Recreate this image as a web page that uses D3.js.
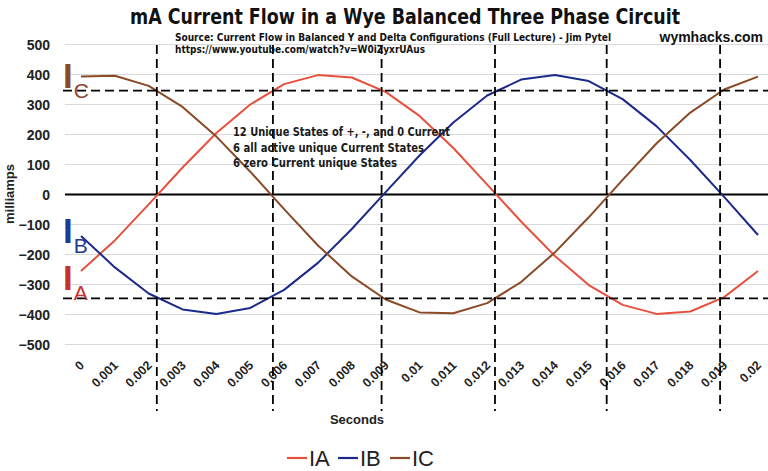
<!DOCTYPE html>
<html><head><meta charset="utf-8">
<script src="https://cdn.jsdelivr.net/npm/d3@7"></script>
<style>
html,body{margin:0;padding:0;background:#fff;}
svg{display:block;}
</style></head>
<body>
<script>
const seconds = [0,0.001,0.002,0.003,0.004,0.005,0.006,0.007,0.008,0.009,0.01,0.011,0.012,0.013,0.014,0.015,0.016,0.017,0.018,0.019,0.02];
const tickLabels = ["0","0.001","0.002","0.003","0.004","0.005","0.006","0.007","0.008","0.009","0.01","0.011","0.012","0.013","0.014","0.015","0.016","0.017","0.018","0.019","0.02"];
const IA = [-255,-153,-33,90,205,300,368,398,390,342,262,155,33,-90,-205,-302,-368,-398,-390,-342,-255];
const IB = [-138,-243,-330,-383,-398,-378,-318,-228,-115,8,130,240,330,383,398,378,318,228,115,-8,-135];
const IC = [393,396,362,292,193,76,-49,-170,-273,-350,-393,-396,-362,-292,-193,-76,49,170,273,350,393];
const yTicks = [500,400,300,200,100,0,-100,-200,-300,-400,-500];
const zeroCrossings = [0.00224,0.00567,0.00888,0.01223,0.01553,0.01888];
const peakLines = [346,-346];
const seriesNames = ["IA","IB","IC"];
const colors = {IA:"#E8503E", IB:"#1C2A8A", IC:"#8A4A26"};
const labelColors = {IA:"#C8302C", IB:"#1F3A96", IC:"#8A4A26"};
const notes = ["12 Unique States of +, -, and 0 Current","6 all active unique Current States","6 zero Current unique States"];
const noteWidths = [217,191,164];

const W=768,H=471;
const svg=d3.select("body").append("svg").attr("width",W).attr("height",H);
svg.append("rect").attr("width",W).attr("height",H).attr("fill","#fff");

const x=d3.scaleLinear().domain([0,0.02]).range([81,758]);
const y=d3.scaleLinear().domain([-500,500]).range([344.5,44.5]);
const narrow='"Liberation Sans Narrow","DejaVu Sans Condensed","Roboto Condensed",Arial,sans-serif';
const sans='"Liberation Sans",Arial,sans-serif';

// gridlines
svg.append("g").selectAll("line").data(yTicks.filter(d=>d!==0)).join("line")
  .attr("x1",65).attr("x2",768).attr("y1",d=>y(d)).attr("y2",d=>y(d))
  .attr("stroke","#d9d9d9").attr("stroke-width",1);

// y axis labels
const yAxis=d3.axisLeft(y).tickValues(yTicks).tickSize(0).tickPadding(0);
const ya=svg.append("g").attr("transform","translate(50,0)").call(yAxis);
ya.select(".domain").remove();
ya.selectAll("text").attr("font-family",sans).attr("font-weight","bold").attr("font-size",14).attr("fill","#222").attr("dy","0.35em");

// zero line
svg.append("line").attr("x1",65).attr("x2",768).attr("y1",y(0)).attr("y2",y(0)).attr("stroke","#000").attr("stroke-width",2.2);

// x labels
const xAxis=d3.axisBottom(x).tickValues(seconds).tickSize(0).tickFormat((d,i)=>tickLabels[i]);
const xa=svg.append("g").call(xAxis);
xa.select(".domain").remove();
xa.selectAll(".tick").attr("transform",d=>`translate(${x(d)+4},366)`);
xa.selectAll("text").attr("x",0).attr("y",0).attr("dy",0).attr("transform","rotate(-45)")
  .attr("text-anchor","end").attr("font-family",sans).attr("font-weight","bold").attr("font-size",12.5).attr("fill","#222");

// series lines
const line=d3.line().x((d,i)=>x(seconds[i])).y(d=>y(d));
const data={IA,IB,IC};
seriesNames.forEach(n=>{
  svg.append("path").datum(data[n]).attr("d",line).attr("fill","none")
    .attr("stroke",colors[n]).attr("stroke-width",2).attr("stroke-linejoin","round");
});

// dashed lines
svg.append("g").selectAll("line").data(peakLines).join("line")
  .attr("x1",63).attr("x2",768).attr("y1",d=>y(d)).attr("y2",d=>y(d))
  .attr("stroke","#000").attr("stroke-width",1.8).attr("stroke-dasharray","9,5");
svg.append("g").selectAll("line").data(zeroCrossings).join("line")
  .attr("x1",d=>x(d)).attr("x2",d=>x(d)).attr("y1",45).attr("y2",411)
  .attr("stroke","#000").attr("stroke-width",1.8).attr("stroke-dasharray","9,5");

// annotation notes
svg.append("g").selectAll("text").data(notes).join("text")
  .attr("x",233).attr("y",(d,i)=>136+i*15.5).text(d=>d)
  .attr("font-family",narrow).attr("font-weight","bold").attr("font-size",12.5).attr("fill","#1a1a1a")
  .attr("textLength",(d,i)=>noteWidths[i]).attr("lengthAdjust","spacingAndGlyphs");

// I labels
const ilabels=[{n:"IC",sub:"C",y:88},{n:"IB",sub:"B",y:243},{n:"IA",sub:"A",y:290}];
ilabels.forEach(l=>{
  const t=svg.append("text").attr("x",63).attr("y",l.y).attr("fill",labelColors[l.n]).attr("font-family",sans);
  t.append("tspan").text("I").attr("font-size",35).attr("font-weight","bold");
  t.append("tspan").text(l.sub).attr("font-size",21).attr("dx",1).attr("dy",10);
});

// titles
svg.append("text").attr("x",405).attr("y",24).attr("text-anchor","middle").text("mA Current Flow in a Wye Balanced Three Phase Circuit")
  .attr("font-family",narrow).attr("font-weight","bold").attr("font-size",21).attr("fill","#111")
  .attr("textLength",550).attr("lengthAdjust","spacingAndGlyphs");
svg.append("text").attr("x",175).attr("y",40.5).text("Source: Current Flow in Balanced Y and Delta Configurations (Full Lecture) - Jim Pytel")
  .attr("font-family",narrow).attr("font-weight","bold").attr("font-size",10).attr("fill","#111")
  .attr("textLength",436).attr("lengthAdjust","spacingAndGlyphs");
svg.append("text").attr("x",175).attr("y",52.5).text("https://www.youtube.com/watch?v=W0iZyxrUAus")
  .attr("font-family",narrow).attr("font-weight","bold").attr("font-size",10).attr("fill","#111")
  .attr("textLength",250).attr("lengthAdjust","spacingAndGlyphs");
svg.append("text").attr("x",763).attr("y",42).attr("text-anchor","end").text("wymhacks.com")
  .attr("font-family",sans).attr("font-weight","bold").attr("font-size",14).attr("fill","#111");

// axis titles
svg.append("text").attr("transform","translate(14,194) rotate(-90)").attr("text-anchor","middle").text("milliamps")
  .attr("font-family",sans).attr("font-weight","bold").attr("font-size",13).attr("fill","#222");
svg.append("text").attr("x",357).attr("y",424).attr("text-anchor","middle").text("Seconds")
  .attr("font-family",sans).attr("font-weight","bold").attr("font-size",13).attr("fill","#222");

// legend
const lg=svg.append("g");
const lx=[287,338,390];
seriesNames.forEach((n,i)=>{
  lg.append("line").attr("x1",lx[i]).attr("x2",lx[i]+20).attr("y1",458).attr("y2",458).attr("stroke",colors[n]).attr("stroke-width",2.2);
  lg.append("text").attr("x",lx[i]+22).attr("y",466).text(n).attr("font-family",sans).attr("font-size",22).attr("fill","#222");
});
</script>
</body></html>
